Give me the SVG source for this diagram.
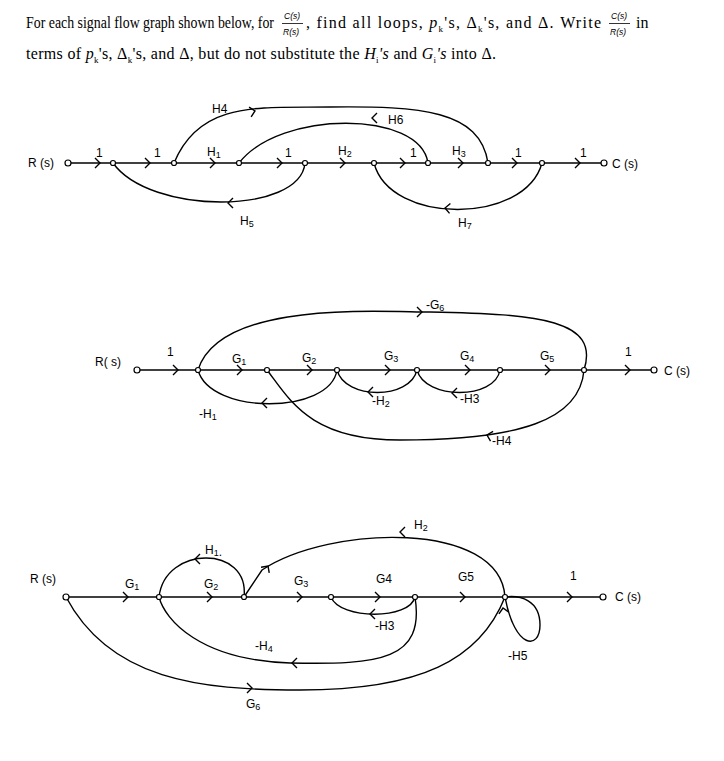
<svg xmlns="http://www.w3.org/2000/svg" width="724" height="761" viewBox="0 0 724 761">
<style>
.t{font-family:"Liberation Serif",serif;font-size:16px;fill:#000}
.f{font-family:"Liberation Sans",sans-serif;font-size:8.5px;font-style:italic;fill:#000}
.l{font-family:"Liberation Sans",sans-serif;font-size:12px;fill:#000}
.e{fill:none;stroke:#000;stroke-width:1.4}
.n{fill:#fff;stroke:#000;stroke-width:1.2}
.a{fill:none;stroke:#000;stroke-width:1.4}
</style>
<defs>
<path id="c" class="a" d="M-5,-5 L0,0 L-5,5"/>
</defs>
<rect width="724" height="761" fill="#fff"/>
<g id="header">
<text class="t" x="26" y="28" textLength="248" lengthAdjust="spacingAndGlyphs">For each signal flow graph shown below, for</text>
<text class="f" x="284" y="19">C(s)</text><line x1="282" y1="23.5" x2="303" y2="23.5" stroke="#000" stroke-width="0.8"/><text class="f" x="283" y="35">R(s)</text>
<text class="t" x="306" y="28" textLength="295" lengthAdjust="spacing">, find all loops, <tspan font-style="italic">p</tspan><tspan font-size="9" dy="4">k</tspan><tspan dy="-4">'s, Δ</tspan><tspan font-size="9" dy="4">k</tspan><tspan dy="-4">'s, and Δ. Write</tspan></text>
<text class="f" x="611" y="19">C(s)</text><line x1="609" y1="23.5" x2="630" y2="23.5" stroke="#000" stroke-width="0.8"/><text class="f" x="610" y="35">R(s)</text>
<text class="t" x="636" y="28">in</text>
<text class="t" x="26" y="59" textLength="470" lengthAdjust="spacing">terms of <tspan font-style="italic">p</tspan><tspan font-size="9" dy="4">k</tspan><tspan dy="-4">'s, Δ</tspan><tspan font-size="9" dy="4">k</tspan><tspan dy="-4">'s, and Δ, but do not substitute the </tspan><tspan font-style="italic">H</tspan><tspan font-size="9" dy="4">i</tspan><tspan dy="-4" font-style="italic">'s</tspan><tspan> and </tspan><tspan font-style="italic">G</tspan><tspan font-size="9" dy="4">i</tspan><tspan dy="-4" font-style="italic">'s</tspan><tspan> into Δ.</tspan></text>
</g>

<g id="connectors">
<path class="e" d="M68,163 H604"/>
<path class="e" d="M174,163 C200,100 260,108 330,107 C420,106 480,110 488,163"/>
<path class="e" d="M428,163 C420,110 280,110 239,163"/>
<path class="e" d="M305,163 C300,215 150,215 113,163"/>
<path class="e" d="M542,163 C525,225 390,225 374,163"/>
<path class="e" d="M137,370 H654"/>
<path class="e" d="M198,370 C220,300 380,312 430,312 C540,314 600,320 584,370"/>
<path class="e" d="M337,370 C330,415 210,415 198,370"/>
<path class="e" d="M417,370 C410,400 345,400 337,370"/>
<path class="e" d="M500,370 C495,400 425,400 417,370"/>
<path class="e" d="M584,370 C580,420 520,440 400,440 C310,440 290,400 267,370"/>
<path class="e" d="M66,597 H603"/>
<path class="e" d="M244,597 C250,545 165,545 159,597"/>
<path class="e" d="M505,597 C500,520 330,525 262,570 L244,597"/>
<path class="e" d="M415,597 C410,620 340,620 331,597"/>
<path class="e" d="M415,597 C425,660 380,665 290,663 C200,660 165,620 159,597"/>
<path class="e" d="M66,597 C110,680 200,690 300,690 C420,690 480,660 505,597"/>
<path class="e" d="M505,597 C515,650 540,650 540,625 C540,600 520,595 505,597"/>
<use href="#c" transform="translate(100,163)"/>
<use href="#c" transform="translate(150,163)"/>
<use href="#c" transform="translate(215,163)"/>
<use href="#c" transform="translate(282,163)"/>
<use href="#c" transform="translate(345,163)"/>
<use href="#c" transform="translate(405,163)"/>
<use href="#c" transform="translate(463,163)"/>
<use href="#c" transform="translate(517,163)"/>
<use href="#c" transform="translate(580,163)"/>
<use href="#c" transform="translate(255,111) rotate(-12)"/>
<use href="#c" transform="translate(372,118) rotate(180)"/>
<use href="#c" transform="translate(228,203) rotate(180)"/>
<use href="#c" transform="translate(445,208) rotate(185)"/>
<use href="#c" transform="translate(178,370)"/>
<use href="#c" transform="translate(242,370)"/>
<use href="#c" transform="translate(312,370)"/>
<use href="#c" transform="translate(390,370)"/>
<use href="#c" transform="translate(470,370)"/>
<use href="#c" transform="translate(550,370)"/>
<use href="#c" transform="translate(630,370)"/>
<use href="#c" transform="translate(422,312)"/>
<use href="#c" transform="translate(262,403) rotate(180)"/>
<use href="#c" transform="translate(368,392) rotate(180)"/>
<use href="#c" transform="translate(452,393) rotate(180)"/>
<use href="#c" transform="translate(487,435) rotate(195)"/>
<use href="#c" transform="translate(128,597)"/>
<use href="#c" transform="translate(212,597)"/>
<use href="#c" transform="translate(302,597)"/>
<use href="#c" transform="translate(380,597)"/>
<use href="#c" transform="translate(465,597)"/>
<use href="#c" transform="translate(572,597)"/>
<use href="#c" transform="translate(195,559) rotate(180)"/>
<use href="#c" transform="translate(400,532) rotate(180)"/>
<use href="#c" transform="translate(268,566) rotate(-55)"/>
<use href="#c" transform="translate(370,614) rotate(180)"/>
<use href="#c" transform="translate(292,663) rotate(180)"/>
<use href="#c" transform="translate(252,688)"/>
<use href="#c" transform="translate(503,608) rotate(-100)"/>
</g>

<g id="graph1">
<g id="g1n0"><circle class="n" cx="68" cy="163" r="3"/><text class="l" x="28" y="167">R (s)</text></g>
<g id="g1n1"><circle class="n" cx="113" cy="163" r="2.5"/></g>
<g id="g1n2"><circle class="n" cx="174" cy="163" r="2.5"/></g>
<g id="g1n3"><circle class="n" cx="239" cy="163" r="2.5"/></g>
<g id="g1n4"><circle class="n" cx="305" cy="163" r="2.5"/></g>
<g id="g1n5"><circle class="n" cx="374" cy="163" r="2.5"/></g>
<g id="g1n6"><circle class="n" cx="428" cy="163" r="2.5"/></g>
<g id="g1n7"><circle class="n" cx="488" cy="163" r="2.5"/></g>
<g id="g1n8"><circle class="n" cx="542" cy="163" r="2.5"/></g>
<g id="g1n9"><circle class="n" cx="604" cy="163" r="3"/><text class="l" x="612" y="168">C (s)</text></g>
<text class="l" x="96" y="157" font-size="10">1</text>
<text class="l" x="154" y="157" font-size="10">1</text>
<text class="l" x="207" y="156">H<tspan font-size="9" dy="2">1</tspan></text>
<text class="l" x="285" y="157" font-size="10">1</text>
<text class="l" x="338" y="155">H<tspan font-size="9" dy="2">2</tspan></text>
<text class="l" x="410" y="157" font-size="10">1</text>
<text class="l" x="452" y="155">H<tspan font-size="9" dy="2">3</tspan></text>
<text class="l" x="515" y="157" font-size="10">1</text>
<text class="l" x="580" y="157" font-size="10">1</text>
<text class="l" x="212" y="113" font-size="11">H4</text>
<text class="l" x="388" y="124" font-size="11">H6</text>
<text class="l" x="240" y="225" font-size="11">H<tspan font-size="9" dy="2">5</tspan></text>
<text class="l" x="458" y="227" font-size="11">H<tspan font-size="9" dy="2">7</tspan></text>
</g>

<g id="graph2">
<g id="g2n0"><circle class="n" cx="137" cy="370" r="3"/><text class="l" x="95" y="366">R( s)</text></g>
<g id="g2n1"><circle class="n" cx="198" cy="370" r="2.5"/></g>
<g id="g2n2"><circle class="n" cx="267" cy="370" r="2.5"/></g>
<g id="g2n3"><circle class="n" cx="337" cy="370" r="2.5"/></g>
<g id="g2n4"><circle class="n" cx="417" cy="370" r="2.5"/></g>
<g id="g2n5"><circle class="n" cx="500" cy="370" r="2.5"/></g>
<g id="g2n6"><circle class="n" cx="584" cy="370" r="2.5"/></g>
<g id="g2n7"><circle class="n" cx="654" cy="370" r="3"/><text class="l" x="664" y="375">C (s)</text></g>
<text class="l" x="167" y="356" font-size="10">1</text>
<text class="l" x="232" y="363">G<tspan font-size="9" dy="2">1</tspan></text>
<text class="l" x="302" y="362">G<tspan font-size="9" dy="2">2</tspan></text>
<text class="l" x="384" y="360">G<tspan font-size="9" dy="2">3</tspan></text>
<text class="l" x="460" y="360">G<tspan font-size="9" dy="2">4</tspan></text>
<text class="l" x="540" y="360">G<tspan font-size="9" dy="2">5</tspan></text>
<text class="l" x="625" y="356" font-size="10">1</text>
<text class="l" x="426" y="309">-G<tspan font-size="9" dy="2">6</tspan></text>
<text class="l" x="199" y="418">-H<tspan font-size="9" dy="2">1</tspan></text>
<text class="l" x="372" y="405">-H<tspan font-size="9" dy="2">2</tspan></text>
<text class="l" x="460" y="403">-H3</text>
<text class="l" x="492" y="445">-H4</text>
</g>

<g id="graph3">
<g id="g3n0"><circle class="n" cx="66" cy="597" r="3"/><text class="l" x="30" y="583">R (s)</text></g>
<g id="g3n1"><circle class="n" cx="159" cy="597" r="2.5"/></g>
<g id="g3n2"><circle class="n" cx="244" cy="597" r="2.5"/></g>
<g id="g3n3"><circle class="n" cx="331" cy="597" r="2.5"/></g>
<g id="g3n4"><circle class="n" cx="415" cy="597" r="2.5"/></g>
<g id="g3n5"><circle class="n" cx="505" cy="597" r="2.5"/></g>
<g id="g3n6"><circle class="n" cx="603" cy="597" r="3"/><text class="l" x="615" y="601">C (s)</text></g>
<text class="l" x="125" y="588">G<tspan font-size="9" dy="2">1</tspan></text>
<text class="l" x="204" y="588">G<tspan font-size="9" dy="2">2</tspan></text>
<text class="l" x="294" y="585">G<tspan font-size="9" dy="2">3</tspan></text>
<text class="l" x="376" y="583">G4</text>
<text class="l" x="458" y="581">G5</text>
<text class="l" x="570" y="580" font-size="10">1</text>
<text class="l" x="205" y="554">H<tspan font-size="9" dy="2">1</tspan>.</text>
<text class="l" x="414" y="529">H<tspan font-size="9" dy="2">2</tspan></text>
<text class="l" x="375" y="630">-H3</text>
<text class="l" x="255" y="650">-H<tspan font-size="9" dy="2">4</tspan></text>
<text class="l" x="246" y="708">G<tspan font-size="9" dy="2">6</tspan></text>
<text class="l" x="508" y="660">-H5</text>
</g>
</svg>
